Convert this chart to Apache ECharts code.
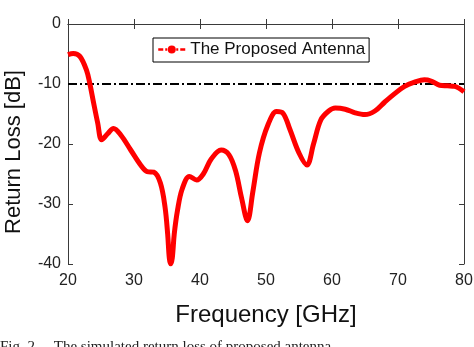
<!DOCTYPE html>
<html>
<head>
<meta charset="utf-8">
<script src="https://cdn.jsdelivr.net/npm/echarts@6/dist/echarts.min.js"></script>
<style>
  html, body { margin: 0; padding: 0; background: #fff; }
  #chart { width: 474px; height: 347px; }
</style>
</head>
<body>
<div id="chart"></div>
<script>
// Simulated return loss (dB) against frequency (GHz)
const frequency = [20, 20.8, 21.8, 22.8, 23.3, 23.8, 24.5, 25.1, 26.0, 26.9, 28.0, 29.5, 31.0, 32.0, 33.0, 34.0,
  34.7, 35.1, 35.35, 35.55, 35.8, 36.1, 36.6, 37.3, 38.4, 39.5, 40.5, 41.7, 43.2, 44.4, 45.4, 46.3, 47.2, 48.0, 49.0,
  50.3, 51.6, 52.6, 53.6, 55.0, 56.2, 57.2, 58.3, 59.5, 60.5, 62.0, 63.5, 65.0, 66.5, 68.0, 69.5, 71.0,
  72.5, 74.0, 75.0, 76.3, 77.5, 78.6, 80];
const returnLoss = [-5.1, -4.9, -5.4, -7.7, -9.9, -12.7, -16.5, -19.3, -18.3, -17.4, -18.5, -21, -23.5, -24.6, -24.7, -26.5,
  -30.5, -35, -39, -40, -39, -35, -31, -27.5, -25.4, -26, -25, -22.5, -21, -21.8, -24.5, -29, -32.8, -28, -21.5,
  -16.8, -14.6, -14.9, -17.5, -21.5, -23.5, -20, -16, -14.5, -14.0, -14.2, -14.8, -15.1, -14.5, -13, -11.6, -10.4,
  -9.7, -9.3, -9.5, -10.2, -10.3, -10.4, -11.3];
const thresholdFreq = [20, 80];
const thresholdLevel = [-10, -10];
const xTicks = [20, 30, 40, 50, 60, 70, 80];
const yTicks = [-40, -30, -20, -10, 0];
const seriesName = 'The Proposed Antenna';

const font = 'Liberation Sans, Arial, sans-serif';
const frameColor = '#3a3a3a';

const chart = echarts.init(document.getElementById('chart'), null, { renderer: 'canvas' });

const baseAxis = {
  type: 'value',
  axisLine: { show: true, lineStyle: { color: frameColor, width: 1 } },
  axisTick: { show: true, inside: true, length: 5, lineStyle: { color: frameColor } },
  splitLine: { show: false }
};

chart.setOption({
  animation: false,
  backgroundColor: '#fff',
  grid: { left: 68, right: 10, top: 24, bottom: 83, containLabel: false, outerBoundsMode: 'none' },
  legend: {
    data: [seriesName],
    left: 153, top: 38,
    orient: 'vertical',
    backgroundColor: '#fff',
    borderColor: '#000', borderWidth: 1, borderRadius: 0,
    padding: [3, 4, 4, 4],
    itemWidth: 27, itemHeight: 10, itemGap: 0,
    textStyle: { fontFamily: font, fontSize: 17, color: '#111' },
    lineStyle: { type: [5, 2, 2, 2], width: 2.5 },
    itemStyle: { color: '#ff0000' }
  },
  xAxis: [
    Object.assign({}, baseAxis, {
      min: xTicks[0], max: xTicks[xTicks.length - 1], interval: 10,
      position: 'bottom',
      name: 'Frequency [GHz]', nameLocation: 'middle', nameGap: 39,
      nameTextStyle: { fontFamily: font, fontSize: 24, color: '#111' },
      axisLabel: { fontFamily: font, fontSize: 16, color: '#222', margin: 9 }
    }),
    Object.assign({}, baseAxis, {
      min: xTicks[0], max: xTicks[xTicks.length - 1], interval: 10,
      position: 'top', axisLabel: { show: false }
    })
  ],
  yAxis: [
    Object.assign({}, baseAxis, {
      min: yTicks[0], max: yTicks[yTicks.length - 1], interval: 10,
      position: 'left',
      name: 'Return Loss [dB]', nameLocation: 'middle', nameGap: 43, nameRotate: 90,
      nameTextStyle: { fontFamily: font, fontSize: 22, color: '#111', padding: [0, 16, 0, 0] },
      axisLabel: { fontFamily: font, fontSize: 16, color: '#222', margin: 7 }
    }),
    Object.assign({}, baseAxis, {
      min: yTicks[0], max: yTicks[yTicks.length - 1], interval: 10,
      position: 'right', axisLabel: { show: false }
    })
  ],
  series: [
    {
      name: '-10 dB',
      type: 'line',
      data: thresholdFreq.map((f, i) => [f, thresholdLevel[i]]),
      showSymbol: false,
      lineStyle: { color: '#000', width: 1.8, type: [9, 3, 2, 3] },
      z: 3
    },
    {
      name: seriesName,
      type: 'line',
      data: frequency.map((f, i) => [f, returnLoss[i]]),
      smooth: 0.35,
      showSymbol: false,
      symbol: 'circle',
      symbolSize: 3,
      itemStyle: { color: '#ff0000' },
      lineStyle: { color: '#ff0000', width: 5 },
      z: 4
    }
  ],
  graphic: [
    {
      type: 'text',
      left: 0, top: 340,
      style: {
        text: 'Fig. 2.    The simulated return loss of proposed antenna.',
        font: '15px "Liberation Serif", "Times New Roman", serif',
        fill: '#222'
      }
    }
  ]
});
</script>
</body>
</html>
